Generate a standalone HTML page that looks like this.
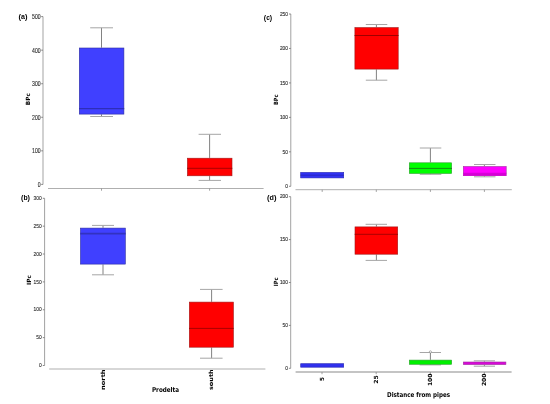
<!DOCTYPE html>
<html><head><meta charset="utf-8"><title>Box plots</title>
<style>
html,body{margin:0;padding:0;background:#fff;}
svg{display:block;}
.tk{font-family:"Liberation Sans","DejaVu Sans",sans-serif;fill:#2a2a2a;stroke:#2a2a2a;stroke-width:0.12px;}
.pl{font-family:"Liberation Sans","DejaVu Sans",sans-serif;font-size:7.4px;font-weight:bold;fill:#000;}
.pp{font-size:7.9px;}
.yl{font-family:"DejaVu Sans","Liberation Sans",sans-serif;font-size:5.8px;font-weight:bold;fill:#000;}
.rl{font-family:"DejaVu Sans","Liberation Sans",sans-serif;font-size:5.7px;font-weight:bold;fill:#000;}
.xl{font-family:"DejaVu Sans","Liberation Sans",sans-serif;font-size:6.7px;font-weight:bold;fill:#000;}
</style></head>
<body>
<svg width="550" height="404" viewBox="0 0 550 404">
<rect width="550" height="404" fill="#ffffff"/>
<line x1="43" y1="16.6" x2="43" y2="184.4" stroke="#c2c2c2" stroke-width="1.5"/>
<line x1="41.2" y1="16.6" x2="43" y2="16.6" stroke="#7c7c7c" stroke-width="0.9"/>
<text x="40.6" y="19.0" text-anchor="end" class="tk" font-size="6.9" textLength="8.55" lengthAdjust="spacingAndGlyphs">500</text>
<line x1="41.2" y1="50.16" x2="43" y2="50.16" stroke="#7c7c7c" stroke-width="0.9"/>
<text x="40.6" y="52.56" text-anchor="end" class="tk" font-size="6.9" textLength="8.55" lengthAdjust="spacingAndGlyphs">400</text>
<line x1="41.2" y1="83.72" x2="43" y2="83.72" stroke="#7c7c7c" stroke-width="0.9"/>
<text x="40.6" y="86.12" text-anchor="end" class="tk" font-size="6.9" textLength="8.55" lengthAdjust="spacingAndGlyphs">300</text>
<line x1="41.2" y1="117.28" x2="43" y2="117.28" stroke="#7c7c7c" stroke-width="0.9"/>
<text x="40.6" y="119.68" text-anchor="end" class="tk" font-size="6.9" textLength="8.55" lengthAdjust="spacingAndGlyphs">200</text>
<line x1="41.2" y1="150.84" x2="43" y2="150.84" stroke="#7c7c7c" stroke-width="0.9"/>
<text x="40.6" y="153.24" text-anchor="end" class="tk" font-size="6.9" textLength="8.55" lengthAdjust="spacingAndGlyphs">100</text>
<line x1="41.2" y1="184.4" x2="43" y2="184.4" stroke="#7c7c7c" stroke-width="0.9"/>
<text x="40.6" y="186.8" text-anchor="end" class="tk" font-size="6.9" textLength="2.85" lengthAdjust="spacingAndGlyphs">0</text>
<line x1="48" y1="188.5" x2="263.6" y2="188.5" stroke="#a6a6a6" stroke-width="0.9"/>
<line x1="101.5" y1="188.5" x2="101.5" y2="190.7" stroke="#8a8a8a" stroke-width="0.8"/>
<line x1="209.6" y1="188.5" x2="209.6" y2="190.7" stroke="#8a8a8a" stroke-width="0.8"/>
<line x1="101.5" y1="27.8" x2="101.5" y2="47.7" stroke="#6c6c6c" stroke-width="0.85"/>
<line x1="90.2" y1="27.8" x2="113" y2="27.8" stroke="#a6a6a6" stroke-width="1.0"/>
<line x1="101.5" y1="114.4" x2="101.5" y2="116.5" stroke="#6c6c6c" stroke-width="0.85"/>
<line x1="90.2" y1="116.5" x2="113" y2="116.5" stroke="#a6a6a6" stroke-width="1.0"/>
<rect x="79.3" y="48.0" width="44.6" height="66.1" fill="#4040ff" stroke="#2c2ca0" stroke-width="0.6"/>
<line x1="79" y1="108.6" x2="124.2" y2="108.6" stroke="#2e2eb8" stroke-width="1.3"/>
<line x1="209.6" y1="134.3" x2="209.6" y2="157.9" stroke="#6c6c6c" stroke-width="0.85"/>
<line x1="198.6" y1="134.3" x2="221" y2="134.3" stroke="#a6a6a6" stroke-width="1.0"/>
<line x1="209.6" y1="176.1" x2="209.6" y2="180.4" stroke="#6c6c6c" stroke-width="0.85"/>
<line x1="198.6" y1="180.4" x2="221" y2="180.4" stroke="#a6a6a6" stroke-width="1.0"/>
<rect x="187.4" y="158.2" width="44.6" height="17.6" fill="#ff0000" stroke="#a01818" stroke-width="0.6"/>
<line x1="187.1" y1="168.3" x2="232.3" y2="168.3" stroke="#a00000" stroke-width="0.9"/>
<line x1="44.6" y1="198.3" x2="44.6" y2="365.5" stroke="#a2a2a2" stroke-width="1.0"/>
<line x1="42.800000000000004" y1="198.3" x2="44.6" y2="198.3" stroke="#7c7c7c" stroke-width="0.9"/>
<text x="41.6" y="200.0" text-anchor="end" class="tk" font-size="6.0" textLength="8.1" lengthAdjust="spacingAndGlyphs">300</text>
<line x1="42.800000000000004" y1="226.17" x2="44.6" y2="226.17" stroke="#7c7c7c" stroke-width="0.9"/>
<text x="41.6" y="227.87" text-anchor="end" class="tk" font-size="6.0" textLength="8.1" lengthAdjust="spacingAndGlyphs">250</text>
<line x1="42.800000000000004" y1="254.03" x2="44.6" y2="254.03" stroke="#7c7c7c" stroke-width="0.9"/>
<text x="41.6" y="255.73" text-anchor="end" class="tk" font-size="6.0" textLength="8.1" lengthAdjust="spacingAndGlyphs">200</text>
<line x1="42.800000000000004" y1="281.9" x2="44.6" y2="281.9" stroke="#7c7c7c" stroke-width="0.9"/>
<text x="41.6" y="283.6" text-anchor="end" class="tk" font-size="6.0" textLength="8.1" lengthAdjust="spacingAndGlyphs">150</text>
<line x1="42.800000000000004" y1="309.77" x2="44.6" y2="309.77" stroke="#7c7c7c" stroke-width="0.9"/>
<text x="41.6" y="311.47" text-anchor="end" class="tk" font-size="6.0" textLength="8.1" lengthAdjust="spacingAndGlyphs">100</text>
<line x1="42.800000000000004" y1="337.63" x2="44.6" y2="337.63" stroke="#7c7c7c" stroke-width="0.9"/>
<text x="41.6" y="339.33" text-anchor="end" class="tk" font-size="6.0" textLength="5.4" lengthAdjust="spacingAndGlyphs">50</text>
<line x1="42.800000000000004" y1="365.5" x2="44.6" y2="365.5" stroke="#7c7c7c" stroke-width="0.9"/>
<text x="41.6" y="367.2" text-anchor="end" class="tk" font-size="6.0" textLength="2.7" lengthAdjust="spacingAndGlyphs">0</text>
<line x1="49.2" y1="369" x2="265.4" y2="369" stroke="#a6a6a6" stroke-width="0.9"/>
<line x1="103" y1="225.4" x2="103" y2="227.8" stroke="#6c6c6c" stroke-width="0.85"/>
<line x1="92" y1="225.4" x2="114" y2="225.4" stroke="#a6a6a6" stroke-width="1.0"/>
<line x1="103" y1="264.4" x2="103" y2="274.8" stroke="#6c6c6c" stroke-width="0.85"/>
<line x1="92" y1="274.8" x2="114" y2="274.8" stroke="#a6a6a6" stroke-width="1.0"/>
<rect x="80.5" y="228.1" width="44.8" height="36.0" fill="#4040ff" stroke="#2c2ca0" stroke-width="0.6"/>
<line x1="80.2" y1="233.7" x2="125.6" y2="233.7" stroke="#3232c0" stroke-width="1.7"/>
<line x1="211.6" y1="289.4" x2="211.6" y2="301.8" stroke="#6c6c6c" stroke-width="0.85"/>
<line x1="200" y1="289.4" x2="222.6" y2="289.4" stroke="#a6a6a6" stroke-width="1.0"/>
<line x1="211.6" y1="347.5" x2="211.6" y2="358.2" stroke="#6c6c6c" stroke-width="0.85"/>
<line x1="200" y1="358.2" x2="222.6" y2="358.2" stroke="#a6a6a6" stroke-width="1.0"/>
<rect x="189.3" y="302.1" width="44.1" height="45.1" fill="#ff0000" stroke="#a01818" stroke-width="0.6"/>
<line x1="189" y1="328.4" x2="233.7" y2="328.4" stroke="#a00000" stroke-width="0.9"/>
<line x1="290.8" y1="14.0" x2="290.8" y2="186.3" stroke="#a2a2a2" stroke-width="1.0"/>
<line x1="289.0" y1="14.0" x2="290.8" y2="14.0" stroke="#7c7c7c" stroke-width="0.9"/>
<text x="288" y="15.7" text-anchor="end" class="tk" font-size="6.0" textLength="8.1" lengthAdjust="spacingAndGlyphs">250</text>
<line x1="289.0" y1="48.46" x2="290.8" y2="48.46" stroke="#7c7c7c" stroke-width="0.9"/>
<text x="288" y="50.16" text-anchor="end" class="tk" font-size="6.0" textLength="8.1" lengthAdjust="spacingAndGlyphs">200</text>
<line x1="289.0" y1="82.92" x2="290.8" y2="82.92" stroke="#7c7c7c" stroke-width="0.9"/>
<text x="288" y="84.62" text-anchor="end" class="tk" font-size="6.0" textLength="8.1" lengthAdjust="spacingAndGlyphs">150</text>
<line x1="289.0" y1="117.38" x2="290.8" y2="117.38" stroke="#7c7c7c" stroke-width="0.9"/>
<text x="288" y="119.08" text-anchor="end" class="tk" font-size="6.0" textLength="8.1" lengthAdjust="spacingAndGlyphs">100</text>
<line x1="289.0" y1="151.84" x2="290.8" y2="151.84" stroke="#7c7c7c" stroke-width="0.9"/>
<text x="288" y="153.54" text-anchor="end" class="tk" font-size="6.0" textLength="5.4" lengthAdjust="spacingAndGlyphs">50</text>
<line x1="289.0" y1="186.3" x2="290.8" y2="186.3" stroke="#7c7c7c" stroke-width="0.9"/>
<text x="288" y="188.0" text-anchor="end" class="tk" font-size="6.0" textLength="2.7" lengthAdjust="spacingAndGlyphs">0</text>
<line x1="295.5" y1="189.7" x2="511.8" y2="189.7" stroke="#a6a6a6" stroke-width="0.9"/>
<line x1="322.2" y1="189.7" x2="322.2" y2="191.89999999999998" stroke="#8a8a8a" stroke-width="0.8"/>
<line x1="376.3" y1="189.7" x2="376.3" y2="191.89999999999998" stroke="#8a8a8a" stroke-width="0.8"/>
<line x1="430.4" y1="189.7" x2="430.4" y2="191.89999999999998" stroke="#8a8a8a" stroke-width="0.8"/>
<line x1="484.4" y1="189.7" x2="484.4" y2="191.89999999999998" stroke="#8a8a8a" stroke-width="0.8"/>
<rect x="300.7" y="172.4" width="43.0" height="5.5" fill="#3232f4" stroke="#2626b4" stroke-width="0.6"/>
<line x1="300.4" y1="175.2" x2="344" y2="175.2" stroke="#2020a0" stroke-width="0.6"/>
<line x1="376.4" y1="24.5" x2="376.4" y2="27.3" stroke="#6c6c6c" stroke-width="0.85"/>
<line x1="365.8" y1="24.5" x2="387.3" y2="24.5" stroke="#a6a6a6" stroke-width="1.0"/>
<line x1="376.4" y1="69.4" x2="376.4" y2="80.2" stroke="#6c6c6c" stroke-width="0.85"/>
<line x1="365.8" y1="80.2" x2="387.3" y2="80.2" stroke="#a6a6a6" stroke-width="1.0"/>
<rect x="354.9" y="27.6" width="43.3" height="41.5" fill="#ff0000" stroke="#a01818" stroke-width="0.6"/>
<line x1="354.6" y1="35.5" x2="398.5" y2="35.5" stroke="#a00000" stroke-width="1.0"/>
<line x1="430.4" y1="148" x2="430.4" y2="162.5" stroke="#6c6c6c" stroke-width="0.85"/>
<line x1="419.8" y1="148" x2="441.3" y2="148" stroke="#a6a6a6" stroke-width="1.0"/>
<line x1="430.4" y1="173.8" x2="430.4" y2="174.3" stroke="#6c6c6c" stroke-width="0.85"/>
<line x1="419.8" y1="174.3" x2="441.3" y2="174.3" stroke="#a6a6a6" stroke-width="1.0"/>
<rect x="409.3" y="162.8" width="42.4" height="10.7" fill="#00ff00" stroke="#30a030" stroke-width="0.6"/>
<line x1="409" y1="168.4" x2="452" y2="168.4" stroke="#1a5a1a" stroke-width="0.7"/>
<line x1="484.4" y1="164.5" x2="484.4" y2="166.2" stroke="#6c6c6c" stroke-width="0.85"/>
<line x1="474" y1="164.5" x2="495.5" y2="164.5" stroke="#a6a6a6" stroke-width="1.0"/>
<line x1="484.4" y1="176" x2="484.4" y2="176.8" stroke="#6c6c6c" stroke-width="0.85"/>
<line x1="474" y1="176.8" x2="495.5" y2="176.8" stroke="#a6a6a6" stroke-width="1.0"/>
<rect x="463.3" y="166.5" width="42.9" height="9.2" fill="#ff00ff" stroke="#a030a0" stroke-width="0.6"/>
<line x1="463" y1="173.2" x2="506.5" y2="173.2" stroke="#c800c8" stroke-width="0.6"/>
<rect x="463.4" y="173.2" width="42.7" height="2.5" fill="#d400d4"/>
<line x1="290.7" y1="196.7" x2="290.7" y2="368.3" stroke="#a2a2a2" stroke-width="1.0"/>
<line x1="288.9" y1="196.7" x2="290.7" y2="196.7" stroke="#7c7c7c" stroke-width="0.9"/>
<text x="288" y="198.4" text-anchor="end" class="tk" font-size="6.0" textLength="8.1" lengthAdjust="spacingAndGlyphs">200</text>
<line x1="288.9" y1="239.6" x2="290.7" y2="239.6" stroke="#7c7c7c" stroke-width="0.9"/>
<text x="288" y="241.3" text-anchor="end" class="tk" font-size="6.0" textLength="8.1" lengthAdjust="spacingAndGlyphs">150</text>
<line x1="288.9" y1="282.5" x2="290.7" y2="282.5" stroke="#7c7c7c" stroke-width="0.9"/>
<text x="288" y="284.2" text-anchor="end" class="tk" font-size="6.0" textLength="8.1" lengthAdjust="spacingAndGlyphs">100</text>
<line x1="288.9" y1="325.4" x2="290.7" y2="325.4" stroke="#7c7c7c" stroke-width="0.9"/>
<text x="288" y="327.1" text-anchor="end" class="tk" font-size="6.0" textLength="5.4" lengthAdjust="spacingAndGlyphs">50</text>
<line x1="288.9" y1="368.3" x2="290.7" y2="368.3" stroke="#7c7c7c" stroke-width="0.9"/>
<text x="288" y="370.0" text-anchor="end" class="tk" font-size="6.0" textLength="2.7" lengthAdjust="spacingAndGlyphs">0</text>
<line x1="295.6" y1="372" x2="511.6" y2="372" stroke="#b0b0b0" stroke-width="1.4"/>
<line x1="322" y1="372" x2="322" y2="374.2" stroke="#8a8a8a" stroke-width="0.8"/>
<line x1="376.2" y1="372" x2="376.2" y2="374.2" stroke="#8a8a8a" stroke-width="0.8"/>
<line x1="430.4" y1="372" x2="430.4" y2="374.2" stroke="#8a8a8a" stroke-width="0.8"/>
<line x1="484.4" y1="372" x2="484.4" y2="374.2" stroke="#8a8a8a" stroke-width="0.8"/>
<rect x="300.7" y="363.7" width="43.0" height="3.5" fill="#3030ec" stroke="#2626b4" stroke-width="0.6"/>
<line x1="376.4" y1="224.3" x2="376.4" y2="226.6" stroke="#6c6c6c" stroke-width="0.85"/>
<line x1="365.6" y1="224.3" x2="387" y2="224.3" stroke="#a6a6a6" stroke-width="1.0"/>
<line x1="376.4" y1="254.5" x2="376.4" y2="260.4" stroke="#6c6c6c" stroke-width="0.85"/>
<line x1="365.6" y1="260.4" x2="387" y2="260.4" stroke="#a6a6a6" stroke-width="1.0"/>
<rect x="355.0" y="226.9" width="42.7" height="27.3" fill="#ff0000" stroke="#a01818" stroke-width="0.6"/>
<line x1="354.7" y1="234.3" x2="398" y2="234.3" stroke="#a00000" stroke-width="0.9"/>
<line x1="430.4" y1="352.5" x2="430.4" y2="359.8" stroke="#6c6c6c" stroke-width="0.85"/>
<line x1="419.6" y1="352.5" x2="441" y2="352.5" stroke="#a6a6a6" stroke-width="1.0"/>
<line x1="430.4" y1="364.6" x2="430.4" y2="364.9" stroke="#6c6c6c" stroke-width="0.85"/>
<line x1="419.6" y1="364.9" x2="441" y2="364.9" stroke="#a6a6a6" stroke-width="1.0"/>
<rect x="409.3" y="360.1" width="42.4" height="4.2" fill="#00f000" stroke="#30a030" stroke-width="0.6"/>
<circle cx="430.4" cy="351.9" r="1.1" fill="#fff" stroke="#6c6c6c" stroke-width="0.5"/>
<line x1="484.4" y1="360.8" x2="484.4" y2="361.7" stroke="#6c6c6c" stroke-width="0.85"/>
<line x1="473.8" y1="360.8" x2="495" y2="360.8" stroke="#a6a6a6" stroke-width="1.0"/>
<line x1="484.4" y1="364.9" x2="484.4" y2="366.2" stroke="#6c6c6c" stroke-width="0.85"/>
<line x1="473.8" y1="366.2" x2="495" y2="366.2" stroke="#a6a6a6" stroke-width="1.0"/>
<rect x="463.3" y="362.0" width="42.6" height="2.6" fill="#d808d8" stroke="#a030a0" stroke-width="0.6"/>
<text x="18.5" y="19" class="pl" textLength="9" lengthAdjust="spacingAndGlyphs"><tspan class="pp">(</tspan>a<tspan class="pp">)</tspan></text>
<text x="21" y="200.4" class="pl" textLength="9" lengthAdjust="spacingAndGlyphs"><tspan class="pp">(</tspan>b<tspan class="pp">)</tspan></text>
<text x="263.8" y="19.8" class="pl" textLength="8.4" lengthAdjust="spacingAndGlyphs"><tspan class="pp">(</tspan>c<tspan class="pp">)</tspan></text>
<text x="267" y="199.8" class="pl" textLength="9.5" lengthAdjust="spacingAndGlyphs"><tspan class="pp">(</tspan>d<tspan class="pp">)</tspan></text>
<text transform="translate(30 99.1) rotate(-90)" text-anchor="middle" class="yl" textLength="12.2" lengthAdjust="spacingAndGlyphs">BPc</text>
<text transform="translate(31.2 280) rotate(-90)" text-anchor="middle" class="yl" textLength="10" lengthAdjust="spacingAndGlyphs">IPc</text>
<text transform="translate(277.8 99.8) rotate(-90)" text-anchor="middle" class="yl" textLength="10.5" lengthAdjust="spacingAndGlyphs">BPc</text>
<text transform="translate(277.5 281.8) rotate(-90)" text-anchor="middle" class="yl" textLength="8.8" lengthAdjust="spacingAndGlyphs">IPc</text>
<text transform="translate(105.3 369.4) rotate(-90)" text-anchor="end" class="rl" textLength="20.6" lengthAdjust="spacingAndGlyphs">north</text>
<text transform="translate(213.2 369.4) rotate(-90)" text-anchor="end" class="rl" textLength="20.6" lengthAdjust="spacingAndGlyphs">south</text>
<text x="152" y="392.4" class="xl" textLength="27" lengthAdjust="spacingAndGlyphs">Prodelta</text>
<text transform="translate(324 378.9) rotate(-90)" text-anchor="middle" class="rl" textLength="4.0" lengthAdjust="spacingAndGlyphs">5</text>
<text transform="translate(378 379.5) rotate(-90)" text-anchor="middle" class="rl" textLength="8.6" lengthAdjust="spacingAndGlyphs">25</text>
<text transform="translate(432.4 379.8) rotate(-90)" text-anchor="middle" class="rl" textLength="12.6" lengthAdjust="spacingAndGlyphs">100</text>
<text transform="translate(486.2 379.8) rotate(-90)" text-anchor="middle" class="rl" textLength="12.6" lengthAdjust="spacingAndGlyphs">200</text>
<text x="387" y="396.8" class="xl" textLength="63" lengthAdjust="spacingAndGlyphs">Distance from pipes</text>
</svg>
</body></html>
